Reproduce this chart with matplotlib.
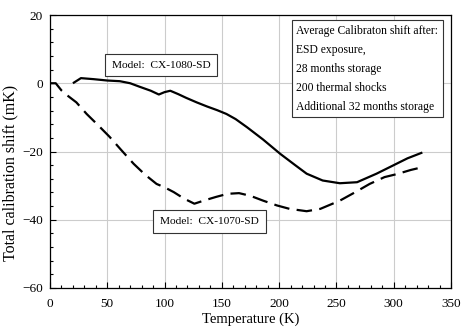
"""Calibration shift vs temperature for two sensor models."""

import matplotlib

matplotlib.use("Agg")
import matplotlib.pyplot as plt
from matplotlib.ticker import MultipleLocator

# CX-1080-SD (solid)
temp_1080 = [20, 27, 38, 50, 61, 70, 78, 88, 95, 100, 105, 112, 119, 128, 137,
             146, 154, 162, 172, 186, 201, 214, 224, 238, 253, 268, 285, 300,
             312, 325]
shift_1080 = [0, 1.5, 1.2, 0.8, 0.6, 0, -1.0, -2.2, -3.3, -2.6, -2.2, -3.2,
              -4.3, -5.6, -6.8, -7.9, -9.0, -10.5, -12.9, -16.5, -20.7, -24.0,
              -26.5, -28.5, -29.3, -29.0, -26.5, -24.0, -22.0, -20.3]

# CX-1070-SD (dashed)
temp_1070 = [0, 5, 10, 16, 23, 32, 42, 52, 62, 73, 83, 93, 100, 108, 117,
             126, 135, 145, 155, 165, 175, 186, 198, 209, 224, 236, 253, 266,
             279, 292, 303, 315, 325]
shift_1070 = [0, 0, -2.1, -3.8, -5.6, -9.0, -12.3, -15.7, -19.5, -23.6, -26.8,
              -29.5, -30.5, -31.9, -33.8, -35.3, -34.3, -33.3, -32.4, -32.2,
              -33.0, -34.4, -35.8, -36.8, -37.5, -36.8, -34.4, -32.0, -29.5,
              -27.5, -26.6, -25.4, -24.6]

info_lines = [
    "Average Calibraton shift after:",
    "ESD exposure,",
    "28 months storage",
    "200 thermal shocks",
    "Additional 32 months storage",
]

plt.rcParams["font.family"] = ["Liberation Serif", "DejaVu Serif"]

fig = plt.figure(figsize=(4.74, 3.29), dpi=100)
ax = fig.add_axes([50 / 474, 1 - 288 / 329, 401 / 474, 273 / 329])

ax.plot(temp_1080, shift_1080, color="black", lw=1.6, solid_capstyle="butt")
ax.plot(temp_1070, shift_1070, color="black", lw=1.6, dashes=(7, 3.3))

ax.set_xlim(0, 350)
ax.set_ylim(-60, 20)
ax.xaxis.set_major_locator(MultipleLocator(50))
ax.xaxis.set_minor_locator(MultipleLocator(10))
ax.yaxis.set_major_locator(MultipleLocator(20))
ax.yaxis.set_minor_locator(MultipleLocator(4))
ax.tick_params(which="both", direction="in", labelsize=9.5, top=False,
               right=False, width=0.8)
ax.tick_params(which="major", length=4)
ax.tick_params(axis="x", which="major", pad=7)
ax.tick_params(axis="y", which="major", pad=5)
ax.tick_params(which="minor", length=2)
ax.grid(True, which="major", color="#cccccc", lw=0.8)
for spine in ax.spines.values():
    spine.set_linewidth(0.9)

ax.set_xlabel("Temperature (K)", fontsize=10.5)
ax.set_ylabel("Total calibration shift (mK)", fontsize=11.5)
ax.xaxis.set_label_coords(0.5, -0.09)
ax.yaxis.set_label_coords(-0.08, 0.42)

box = dict(boxstyle="square,pad=0.6", facecolor="white", edgecolor="#333333",
           lw=0.8)
ax.text(97, 5.3, "Model:  CX-1080-SD", fontsize=8.2, ha="center",
        va="center", bbox=box)
ax.text(139, -40.5, "Model:  CX-1070-SD", fontsize=8.2, ha="center",
        va="center", bbox=box)
ax.text(215, 17.2, "\n".join(info_lines), fontsize=8.4, ha="left",
        va="top", linespacing=1.78,
        bbox=dict(boxstyle="square,pad=0.4", facecolor="white",
                  edgecolor="#333333", lw=0.8))

fig.savefig("out.png", dpi=100)
